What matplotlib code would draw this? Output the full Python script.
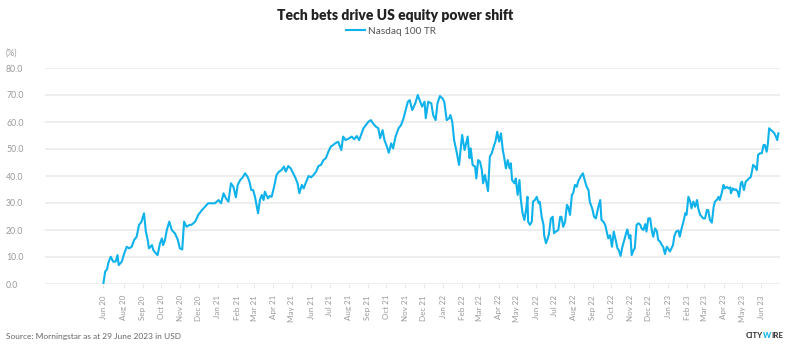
import datetime as dt
import pandas as pd
import matplotlib
matplotlib.use("Agg")
import matplotlib.pyplot as plt

# Data: Nasdaq 100 TR cumulative return (%)
START = dt.date(2020, 6, 29)

days = [
    0, 3, 6, 8, 12, 16, 20, 23, 25, 30, 34, 38, 42, 46, 50, 54, 58, 62, 66, 69,
    72, 74, 79, 81, 85, 88, 92, 95, 97, 100, 103, 107, 111, 116, 121, 124, 128, 131, 135, 140,
    143, 149, 154, 160, 165, 170, 176, 181, 187, 191, 195, 199, 203, 207, 211, 215, 218, 222, 226, 230,
    234, 237, 240, 243, 246, 249, 251, 254, 257, 260, 262, 267, 270, 273, 277, 281, 285, 289, 293, 296,
    300, 304, 308, 312, 315, 318, 322, 325, 328, 333, 337, 341, 345, 349, 353, 357, 361, 365, 369, 373,
    376, 381, 386, 389, 393, 399, 403, 407, 411, 415, 418, 422, 426, 430, 434, 438, 442, 446, 449, 453,
    456, 460, 463, 467, 470, 474, 479, 483, 487, 489, 494, 497, 501, 506, 510, 514, 517, 521, 523, 527,
    532, 535, 539, 542, 546, 550, 553, 557, 561, 563, 566, 569, 573, 577, 580, 582, 586, 588, 591, 594,
    596, 599, 603, 605, 608, 611, 614, 616, 619, 622, 624, 627, 630, 634, 636, 639, 642, 645, 648, 650,
    653, 656, 659, 661, 663, 667, 669, 672, 675, 677, 680, 683, 686, 688, 689, 692, 695, 697, 700, 703,
    706, 708, 711, 714, 715, 718, 721, 723, 726, 729, 731, 734, 738, 741, 743, 746, 749, 752, 754, 757,
    760, 762, 765, 768, 770, 774, 778, 780, 784, 787, 789, 793, 796, 799, 803, 806, 808, 811, 814, 817,
    819, 822, 825, 828, 831, 834, 836, 839, 842, 845, 848, 850, 853, 855, 857, 860, 862, 865, 868, 871,
    873, 876, 879, 881, 884, 887, 890, 892, 895, 898, 900, 903, 906, 908, 911, 914, 916, 919, 924, 926,
    929, 933, 935, 938, 941, 944, 946, 949, 952, 954, 957, 960, 963, 965, 968, 971, 973, 976, 979, 981,
    984, 987, 990, 992, 995, 998, 1000, 1003, 1006, 1008, 1011, 1014, 1017, 1018, 1021, 1024, 1026, 1029, 1031, 1034,
    1036, 1039, 1042, 1045, 1047, 1050, 1052, 1054, 1057, 1060, 1062, 1065, 1068, 1071, 1073, 1076, 1078, 1080, 1083, 1086,
    1088, 1091, 1093, 1095,
]

returns = [
    0.0, 4.6, 5.4, 7.7, 10.1, 8.3, 8.3, 10.7, 7.0, 8.3, 11.4, 13.8, 13.2, 13.8, 16.3, 17.5, 21.9, 23.1, 26.2, 19.4,
    16.3, 13.2, 14.4, 12.6, 11.4, 10.7, 15.1, 16.9, 14.4, 16.3, 20.0, 23.1, 20.0, 18.8, 16.3, 13.2, 12.8, 23.1, 21.2, 21.9,
    21.9, 23.1, 25.6, 27.4, 28.6, 29.9, 29.9, 29.9, 31.1, 29.9, 33.6, 31.7, 30.5, 37.3, 36.0, 32.1, 36.7, 38.5, 39.5, 41.0,
    39.7, 37.9, 34.8, 34.8, 32.3, 28.6, 26.2, 31.1, 33.0, 31.1, 34.2, 31.7, 32.6, 32.3, 36.0, 40.4, 41.6, 42.2, 43.5, 41.6,
    43.7, 42.8, 41.0, 39.1, 37.3, 33.6, 36.7, 35.4, 37.3, 40.0, 39.5, 40.4, 41.6, 43.7, 44.1, 45.9, 46.6, 49.0, 50.9, 51.5,
    52.1, 52.7, 49.6, 54.6, 53.3, 54.0, 54.6, 53.6, 54.8, 53.3, 55.2, 57.7, 58.9, 60.1, 60.7, 59.3, 58.3, 57.7, 54.0, 57.0,
    53.3, 50.9, 48.6, 52.1, 50.2, 54.6, 57.7, 58.9, 61.4, 63.2, 67.5, 68.1, 64.4, 66.9, 70.0, 67.5, 65.7, 67.5, 61.4, 67.5,
    66.9, 62.6, 60.7, 66.9, 69.6, 68.8, 67.5, 60.7, 61.4, 62.6, 60.1, 53.3, 49.0, 44.1, 50.9, 55.2, 49.6, 51.5, 54.6, 46.6,
    50.2, 44.1, 43.5, 39.1, 45.9, 45.3, 42.2, 37.3, 40.4, 36.7, 34.4, 47.2, 48.4, 51.5, 52.7, 56.4, 52.7, 55.8, 49.6, 47.2,
    42.8, 45.9, 42.8, 44.7, 38.5, 37.3, 39.1, 33.0, 38.5, 31.7, 26.2, 23.7, 28.0, 32.3, 23.1, 21.9, 23.1, 30.5, 31.1, 32.3,
    29.9, 30.5, 24.9, 21.9, 18.1, 15.1, 16.9, 18.8, 24.3, 24.9, 18.8, 19.4, 20.0, 24.9, 24.9, 21.2, 23.1, 29.3, 28.6, 25.6,
    33.0, 33.6, 36.7, 36.0, 37.9, 39.7, 41.0, 39.1, 36.0, 34.8, 30.5, 28.0, 24.9, 24.3, 28.6, 31.1, 23.7, 23.1, 21.9, 18.8,
    16.9, 18.1, 13.8, 19.4, 16.3, 13.2, 12.6, 10.4, 13.8, 16.3, 18.8, 20.2, 16.9, 18.1, 10.7, 12.6, 13.2, 21.9, 22.5, 21.9,
    20.6, 20.0, 22.2, 19.4, 24.3, 24.3, 19.4, 17.5, 20.6, 19.4, 16.3, 15.7, 14.4, 13.8, 11.1, 13.8, 13.2, 12.0, 14.4, 17.5,
    19.4, 19.8, 17.5, 20.6, 23.1, 26.2, 25.6, 32.3, 30.5, 28.0, 30.5, 28.6, 31.1, 28.0, 25.6, 24.9, 24.3, 24.3, 27.4, 27.4,
    23.7, 22.7, 28.6, 30.5, 31.1, 32.3, 31.1, 33.6, 36.7, 35.4, 36.0, 35.4, 35.8, 33.6, 35.4, 34.8, 35.1, 34.2, 32.3, 37.3,
    37.9, 34.8, 37.9, 38.5, 39.1, 39.5, 41.6, 44.1, 43.5, 42.2, 47.8, 48.4, 48.4, 51.5, 51.5, 49.0, 52.1, 57.7, 57.0, 56.4,
    56.0, 54.6, 53.3, 55.8,
]

y_ticks = [0, 10, 20, 30, 40, 50, 60, 70, 80]

LINE_COLOR = "#0fb2ea"
GRID_COLOR = "#eeeeee"
TICK_TEXT = "#9a9a9a"

plt.rcParams["font.family"] = ["Lato", "DejaVu Sans"]

dates = [pd.Timestamp(START) + pd.Timedelta(days=d) for d in days]

fig = plt.figure(figsize=(7.9, 3.53), dpi=100)
ax = fig.add_axes([45 / 790, 1 - 284 / 353, (780 - 45) / 790, (284 - 68) / 353])

ax.plot(dates, returns, color=LINE_COLOR, lw=1.5, label="Nasdaq 100 TR", zorder=3)

# axes limits
x0 = pd.Timestamp(START) - pd.Timedelta(days=94.6)
x1 = pd.Timestamp(START) + pd.Timedelta(days=1097.6)
ax.set_xlim(x0, x1)
ax.set_ylim(0, 80)

# y axis: labels left aligned at figure edge
ax.set_yticks(y_ticks)
ax.set_yticklabels([f"{v:.1f}" for v in y_ticks])
ax.tick_params(axis="y", length=0, pad=28, labelsize=6.3, labelcolor=TICK_TEXT)
for lbl in ax.get_yticklabels():
    lbl.set_horizontalalignment("left")
ax.yaxis.grid(True, color=GRID_COLOR, lw=1.4, zorder=0)

# x axis ticks: series start, then month starts
tick_dates = [pd.Timestamp(START)] + list(pd.date_range("2020-08-01", "2023-06-01", freq="MS"))
ax.set_xticks(tick_dates)
ax.set_xticklabels([d.strftime("%b %y") for d in tick_dates], rotation=90, va="top")
ax.tick_params(axis="x", length=3, width=0.8, color="#e6e6e6", pad=5,
               labelsize=5.8, labelcolor=TICK_TEXT)

for s in ax.spines.values():
    s.set_visible(False)

# titles and legend
fig.text(0.5, 1 - 15 / 353, "Tech bets drive US equity power shift", ha="center", va="center",
         fontsize=10.0, fontweight="heavy", color="#222222")
fig.legend(loc="center", bbox_to_anchor=(0.495, 1 - 31 / 353), frameon=False, fontsize=7.2,
           handlelength=1.9, handletextpad=0.3, labelcolor="#555555")
fig.text(6 / 790, 1 - 53 / 353, "(%)", ha="left", va="center", fontsize=6.3, color=TICK_TEXT)

fig.text(6 / 790, 1 - 336 / 353, "Source: Morningstar as at 29 June 2023 in USD", ha="left", va="center",
         fontsize=6.0, color="#666666")

# Citywire wordmark
t1 = fig.text(746 / 790, 1 - 338 / 353, "CITY", ha="left", va="baseline", fontsize=5.6,
              fontweight="black", color="#3a3a3a")
t2 = ax.annotate("W", xy=(1, 0), xycoords=t1, ha="left", va="bottom", fontsize=5.6,
                 fontweight="black", color=LINE_COLOR, annotation_clip=False)
t3 = ax.annotate("IRE", xy=(1, 0), xycoords=t2, ha="left", va="bottom", fontsize=5.6,
                 fontweight="black", color="#3a3a3a", annotation_clip=False)

fig.savefig("out.png", dpi=100)
